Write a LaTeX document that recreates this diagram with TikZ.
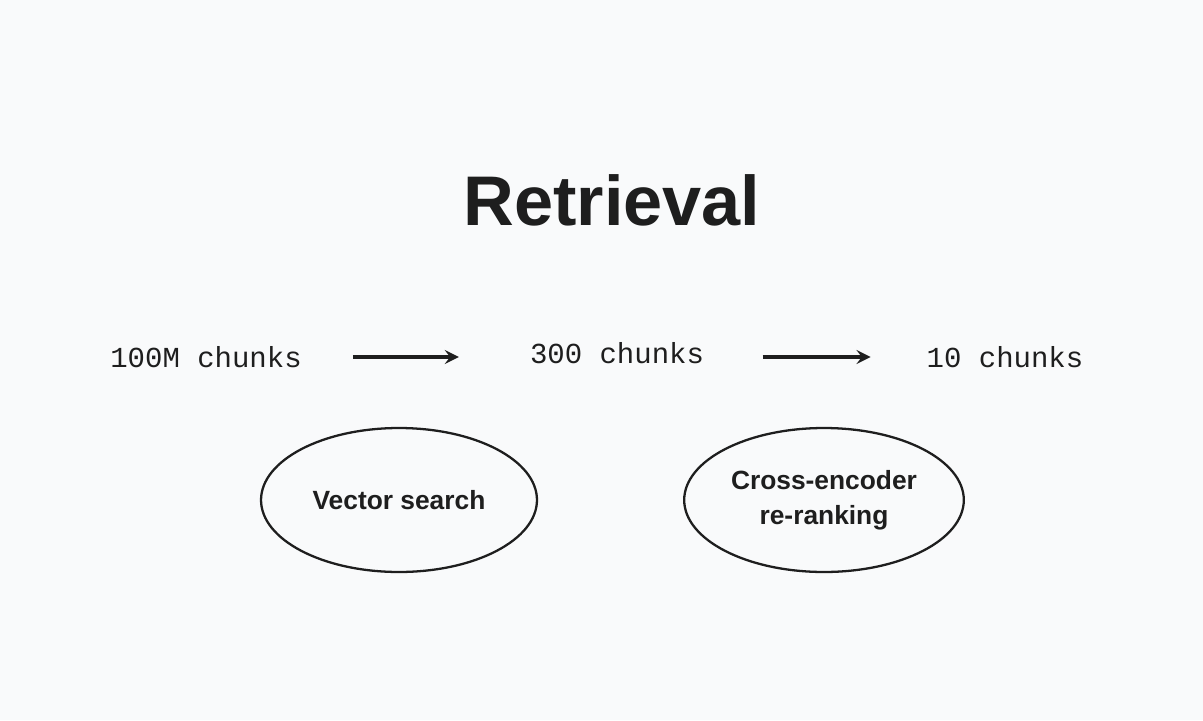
\documentclass[tikz,border=0pt]{standalone}
\usepackage{fontspec}
\setmainfont{Liberation Sans}
\newfontfamily\monofont{Liberation Mono}
\usetikzlibrary{shapes.geometric,arrows.meta}
\definecolor{bg}{HTML}{F9FAFB}
\definecolor{ink}{HTML}{1E1E1E}
\tikzset{
  count/.style={font=\monofont\fontsize{16.5}{18}\selectfont, text=ink},
  stage/.style={ellipse, draw=ink, line width=1.3pt, minimum width=5.52cm, minimum height=2.88cm,
    align=center, font=\bfseries\fontsize{15}{20}\selectfont, text=ink},
  flow/.style={-{Stealth[length=8pt,width=8pt,inset=3pt]}, draw=ink, line width=1.8pt}
}
\begin{document}
\begin{tikzpicture}[x=0.02cm,y=-0.02cm]
  \fill[bg] (0,0) rectangle (1203,720);
  \useasboundingbox (0,0) rectangle (1203,720);
  \node[font=\bfseries\fontsize{40}{44}\selectfont, text=ink] (title) at (612,200) {Retrieval};
  \node[count] (c100m) at (206,357) {100M chunks};
  \node[count] (c300) at (617,353) {300 chunks};
  \node[count] (c10) at (1005,357) {10 chunks};
  \node[stage] (vec) at (399,500) {Vector search};
  \node[stage] (rerank) at (824,500) {Cross-encoder\\re-ranking};
  \draw[flow, shorten <=0.9cm, shorten >=1.3cm] (c100m.east) -- (c300.west |- c100m.east);
  \draw[flow, shorten <=1.05cm, shorten >=1.0cm] (c300.east |- c10.west) -- (c10.west);
\end{tikzpicture}
\end{document}
